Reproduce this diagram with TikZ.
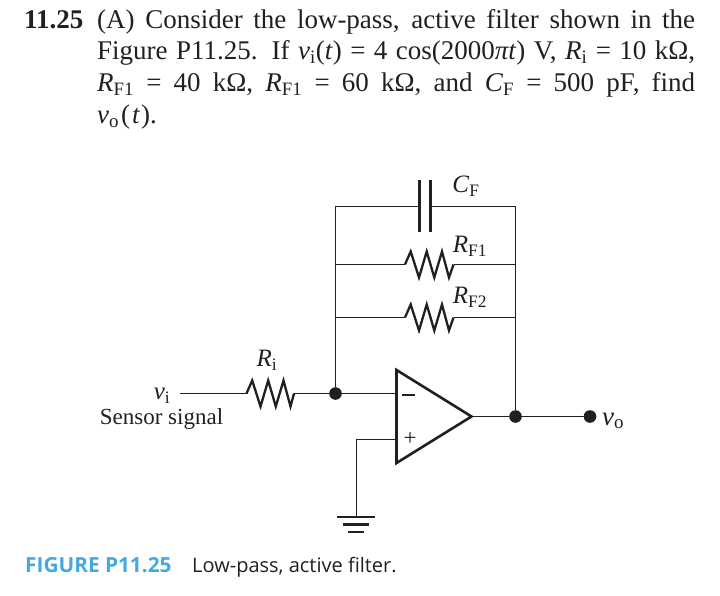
\documentclass[tikz,border=0pt]{standalone}
\usepackage{fontspec}
\setmainfont{Liberation Serif}
\newfontfamily\capfont{Open Sans}
\definecolor{ink}{HTML}{231F20}
\definecolor{capblue}{HTML}{45A9E1}
\newcommand{\sym}[2]{\textit{#1}\textsubscript{#2}}
\tikzset{
  wire/.style={ink, line width=1.2pt},
  thick wire/.style={ink, line width=2.6pt},
  res/.style={ink, line width=2.3pt, line join=miter},
  dot/.style={circle, fill=ink, inner sep=0pt, minimum size=12.6pt},
  txt/.style={ink, anchor=base west, inner sep=0pt, font=\fontsize{27}{30}\selectfont},
  lab/.style={ink, inner sep=0pt, font=\fontsize{25}{28}\selectfont},
  capt/.style={anchor=base west, inner sep=0pt},
  zigzag/.style={to path={-- ++(5.7,-13) -- ++(8.3,26) -- ++(7.7,-26) -- ++(7.6,26) -- ++(7.7,-26) -- ++(7,26) -- (\tikztotarget)}}
}
\begin{document}
\begin{tikzpicture}[x=1pt,y=-1pt]
\useasboundingbox (0,0) rectangle (720,596);

% problem text
\node [txt] (num) at (24,29) {\textbf{11.25}};
\node [txt] (line1) at (97,29) {\makebox[598pt][s]{(A) Consider the low-pass, active filter shown in the}};
\node [txt] (line2) at (97,60) {\makebox[598pt][s]{Figure P11.25. If \sym{v}{i}(\textit{t}) = 4 cos(2000\textit{πt}) V, \sym{R}{i} = 10 kΩ,}};
\node [txt] (line3) at (97,92) {\makebox[598pt][s]{\sym{R}{F1} = 40 kΩ, \sym{R}{F1} = 60 kΩ, and \sym{C}{F} = 500 pF, find}};
\node [txt] (line4) at (97,124) {\sym{v}{o}\kern2pt(\kern2pt\textit{t}\kern1pt).};

% points of the circuit
\coordinate (tl) at (335.5,206.5);
\coordinate (tr) at (515.5,206.5);
\coordinate (capl) at (419.5,206.5);
\coordinate (capr) at (430.5,206.5);
\coordinate (capla) at (419.5,180);
\coordinate (caplb) at (419.5,232);
\coordinate (capra) at (430.5,180);
\coordinate (caprb) at (430.5,232);
\coordinate (fa) at (335.5,264.5);
\coordinate (fb) at (515.5,264.5);
\coordinate (faz) at (405,264.5);
\coordinate (fbz) at (453.5,264.5);
\coordinate (ga) at (335.5,317.5);
\coordinate (gb) at (515.5,317.5);
\coordinate (gaz) at (405,317.5);
\coordinate (gbz) at (453.5,317.5);
\coordinate (vis) at (180,393.5);
\coordinate (riz) at (246.5,393.5);
\coordinate (rjz) at (294,393.5);
\coordinate (oa1) at (396.5,370);
\coordinate (oa2) at (396.5,463);
\coordinate (oa3) at (471.5,416.5);
\coordinate (inm) at (396.5,393.5);
\coordinate (inp) at (396.5,439.5);
\coordinate (gc) at (356.5,439.5);
\coordinate (gd) at (356.5,517);

\node [dot] (nin) at (335.5,393.5) {};
\node [dot] (nout) at (515.5,416.5) {};
\node [dot] (nvo) at (590,416.5) {};

% feedback paths
\draw [wire] (nin) -- (tl) -- (capl);
\draw [wire] (capr) -- (tr) -- (nout);
\draw [thick wire] (capla) -- (caplb);
\draw [thick wire] (capra) -- (caprb);
\draw [wire] (fa) -- (faz);
\draw [res] (faz) to[zigzag] (fbz);
\draw [wire] (fbz) -- (fb);
\draw [wire] (ga) -- (gaz);
\draw [res] (gaz) to[zigzag] (gbz);
\draw [wire] (gbz) -- (gb);

% input
\draw [wire] (vis) -- (riz);
\draw [res] (riz) to[zigzag] (rjz);
\draw [wire] (rjz) -- (nin);
\draw [wire] (nin) -- (inm);

% op amp
\draw [thick wire, line join=miter, fill=white] (oa1) -- (oa2) -- (oa3) -- cycle;
\draw [wire] (oa3) -- (nout) -- (nvo);
\draw [wire] (inp) -- (gc) -- (gd);
\draw [wire] (402,395) -- (415,395);
\node [lab] (plus) at (410,439.5) {\fontsize{23}{23}\selectfont +};

% ground
\draw [thick wire] (337,517) -- (375,517);
\draw [thick wire] (343,524.5) -- (369,524.5);
\draw [thick wire] (348,532) -- (364,532);

% labels
\node [lab] (lcf) at (466,186) {\sym{C}{F}};
\node [lab] (lrf1) at (470,246.5) {\sym{R}{F1}};
\node [lab] (lrf2) at (470,297.5) {\sym{R}{F2}};
\node [lab] (lri) at (267,360) {\sym{R}{i}};
\node [lab] (lvi) at (162,396) {\sym{v}{i}};
\node [lab] (lss) at (161.5,418.5) {\fontsize{23}{26}\selectfont Sensor signal};
\node [lab] (lvo) at (613,421) {\fontsize{27}{28}\selectfont\sym{v}{o}};

% caption
\node [capt, font=\capfont\fontsize{20.8}{22}\selectfont\bfseries, capblue] (capa) at (25,572) {FIGURE P11.25};
\node [capt, font=\capfont\fontsize{20}{22}\selectfont, ink] (capb) at (192,572) {Low-pass, active filter.};
\end{tikzpicture}
\end{document}
